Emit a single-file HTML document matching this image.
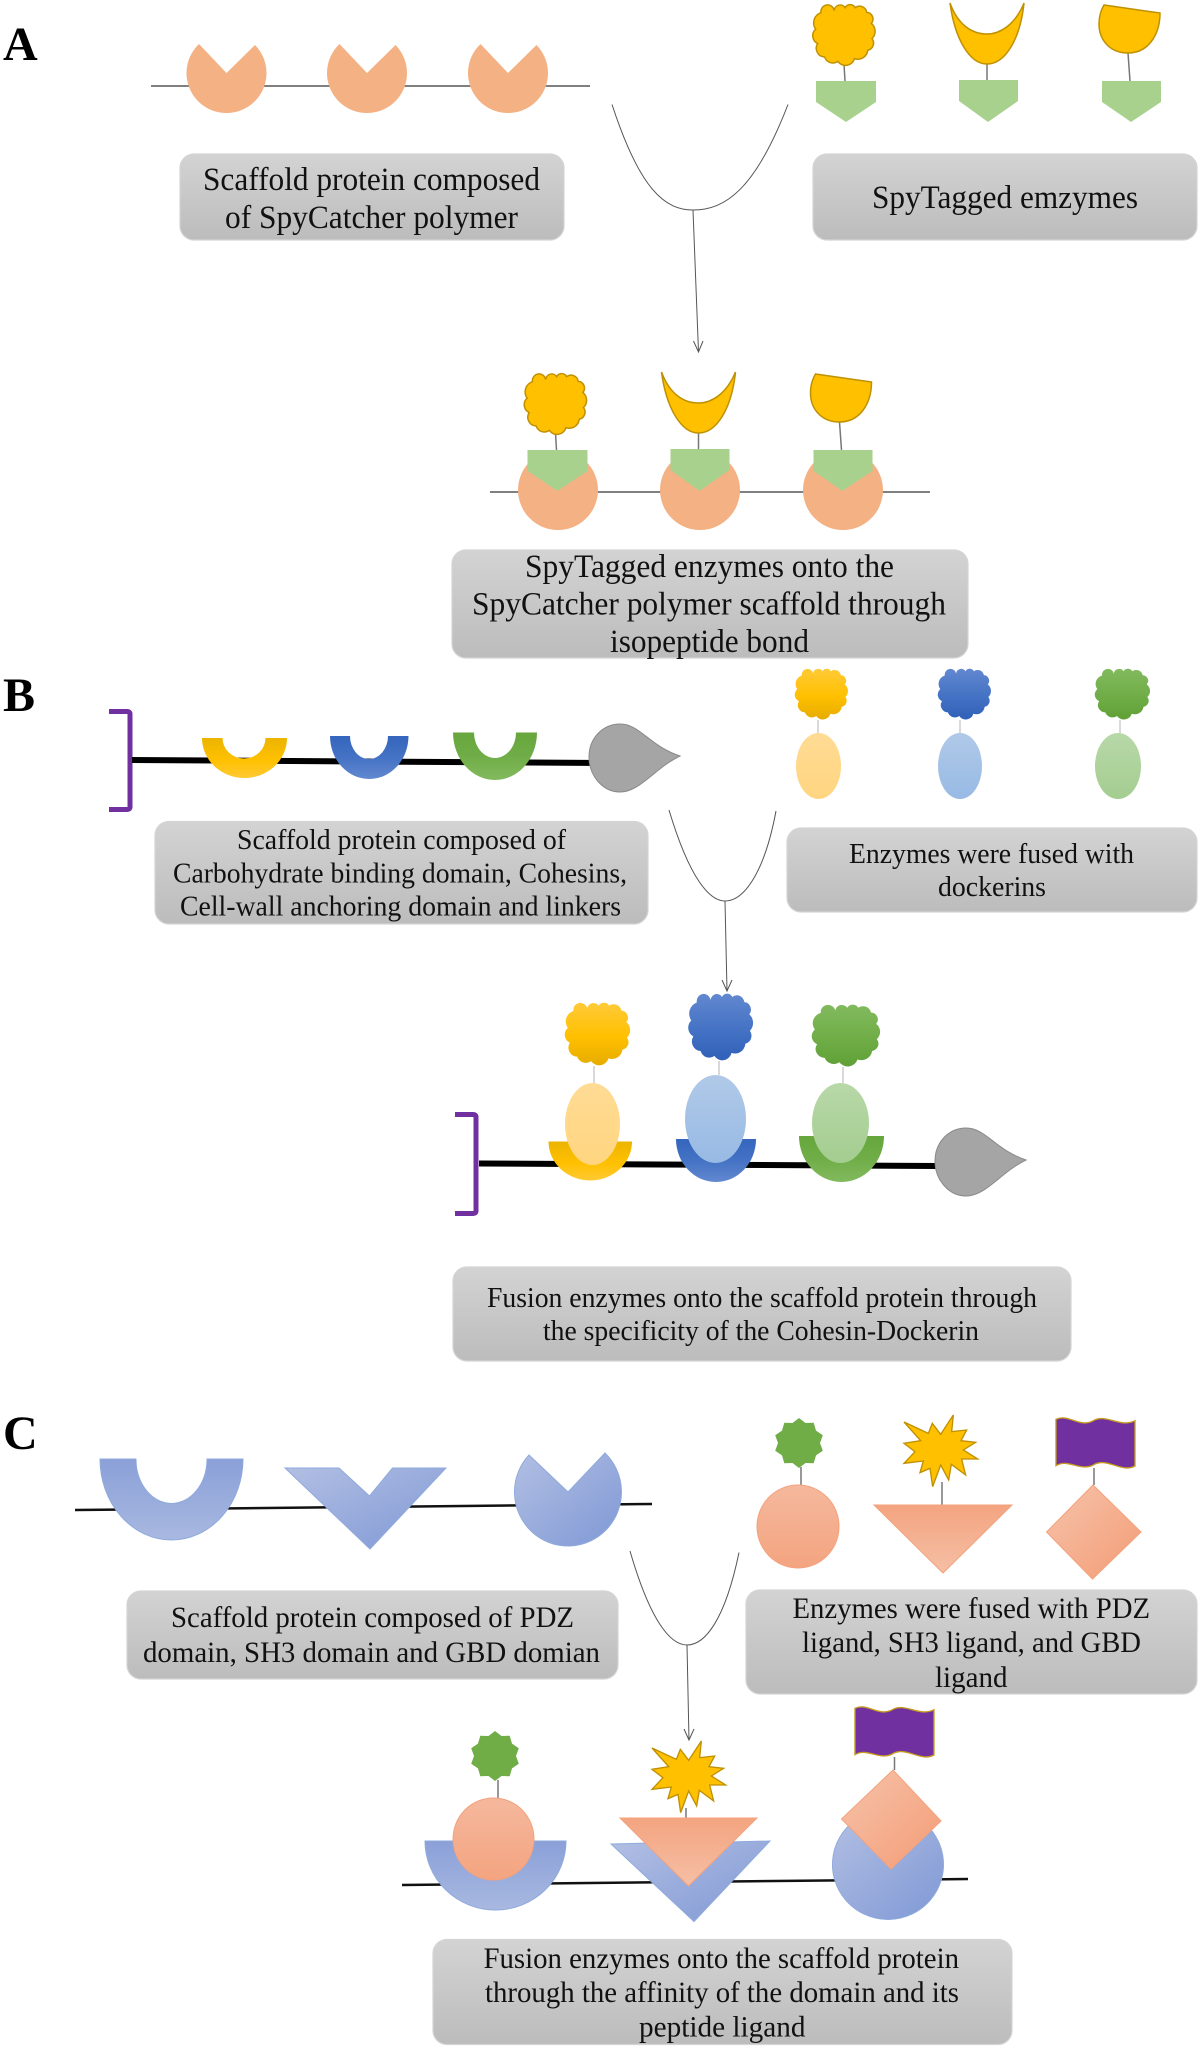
<!DOCTYPE html>
<html><head><meta charset="utf-8"><title>Scaffold diagram</title>
<style>
html,body{margin:0;padding:0;background:#fff;width:1200px;height:2048px;overflow:hidden}
svg{display:block}
text{font-family:"Liberation Serif",serif;fill:#111}
.a{font-size:33px}.b{font-size:28px}.c{font-size:30px}
.h{font-size:48px;font-weight:bold;fill:#000}
.box{fill:url(#gBox);stroke:#d4d4d4;stroke-width:1.2}
.thin{fill:none;stroke:#555;stroke-width:1}
.stem{stroke:#777;stroke-width:1.5;fill:none}
.stemL{stroke:#ccc;stroke-width:1.5;fill:none}
.gold{fill:#ffc000;stroke:#bf9000;stroke-width:1.5}
.pent{fill:#a9d18e}
.sal{fill:#f4b183}
.pur{fill:none;stroke:#7030a0;stroke-width:5}
.tear{fill:#a5a5a5;stroke:#8a8a8a;stroke-width:1}
.blu{stroke:#8faadc;stroke-width:1}
.sm{stroke:#f4a27c;stroke-width:1}
</style></head><body>
<svg width="1200" height="2048" viewBox="0 0 1200 2048" xmlns="http://www.w3.org/2000/svg">
<defs>
<linearGradient id="gBox" x1="0" y1="0" x2="0" y2="1"><stop offset="0" stop-color="#d3d3d3"/><stop offset="1" stop-color="#bcbcbc"/></linearGradient>
<linearGradient id="gY" x1="0" y1="0" x2="0" y2="1"><stop offset="0" stop-color="#ecb400"/><stop offset=".55" stop-color="#ffc000"/><stop offset="1" stop-color="#ffc933"/></linearGradient>
<linearGradient id="gB" x1="0" y1="0" x2="0" y2="1"><stop offset="0" stop-color="#3566bd"/><stop offset=".5" stop-color="#4472c4"/><stop offset="1" stop-color="#6288d0"/></linearGradient>
<linearGradient id="gG" x1="0" y1="0" x2="0" y2="1"><stop offset="0" stop-color="#66a63c"/><stop offset=".5" stop-color="#70ad47"/><stop offset="1" stop-color="#82ba5e"/></linearGradient>
<linearGradient id="cY" x1="0" y1="0" x2="0" y2="1"><stop offset="0" stop-color="#ffca38"/><stop offset=".55" stop-color="#ffc000"/><stop offset="1" stop-color="#e6ac00"/></linearGradient>
<linearGradient id="cB" x1="0" y1="0" x2="0" y2="1"><stop offset="0" stop-color="#6288d0"/><stop offset=".55" stop-color="#4472c4"/><stop offset="1" stop-color="#3060b8"/></linearGradient>
<linearGradient id="cG" x1="0" y1="0" x2="0" y2="1"><stop offset="0" stop-color="#82ba5e"/><stop offset=".55" stop-color="#70ad47"/><stop offset="1" stop-color="#60a036"/></linearGradient>
<linearGradient id="lY" x1="0" y1="0" x2="0" y2="1"><stop offset="0" stop-color="#ffdb94"/><stop offset="1" stop-color="#ffd580"/></linearGradient>
<linearGradient id="lB" x1="0" y1="0" x2="0" y2="1"><stop offset="0" stop-color="#b0c9e8"/><stop offset="1" stop-color="#98bae4"/></linearGradient>
<linearGradient id="lG" x1="0" y1="0" x2="0" y2="1"><stop offset="0" stop-color="#b8d8a8"/><stop offset="1" stop-color="#a4cd90"/></linearGradient>
<linearGradient id="bV" x1="0" y1="0" x2="0" y2="1"><stop offset="0" stop-color="#8aa0d8"/><stop offset="1" stop-color="#a8b8e0"/></linearGradient>
<linearGradient id="bD" x1="0" y1="0" x2="1" y2="1"><stop offset="0" stop-color="#b2bfe3"/><stop offset="1" stop-color="#7f98d5"/></linearGradient>
<linearGradient id="sV" x1="0" y1="0" x2="0" y2="1"><stop offset="0" stop-color="#f5b89d"/><stop offset="1" stop-color="#f4a480"/></linearGradient>
<linearGradient id="sT" x1="0" y1="0" x2="0" y2="1"><stop offset="0" stop-color="#f4a480"/><stop offset="1" stop-color="#f5bfa5"/></linearGradient>
<linearGradient id="sD" x1="0" y1="0" x2="1" y2="1"><stop offset="0" stop-color="#f6c3ab"/><stop offset="1" stop-color="#f49c75"/></linearGradient>
<path id="cloud" vector-effect="non-scaling-stroke" d="M24,23A20,20 0 0 1 64,17A18,18 0 0 1 97,8A17,17 0 0 1 127,8A22,22 0 0 1 162,22A20,20 0 0 1 176,55A30,30 0 0 1 178,100A22,22 0 0 1 165,135A30,30 0 0 1 125,160A28,28 0 0 1 75,168A26,26 0 0 1 35,155A26,26 0 0 1 14,115A26,26 0 0 1 8,72A32,32 0 0 1 24,23Z"/>
<polygon id="seal" points="0,-50 13,-40 29.4,-40.5 34,-24.7 47.6,-15.5 42,0 47.6,15.5 34,24.7 29.4,40.5 13,40 0,50 -13,40 -29.4,40.5 -34,24.7 -47.6,15.5 -42,0 -47.6,-15.5 -34,-24.7 -29.4,-40.5 -13,-40"/>
<g id="enzA">
<line class="stem" x1="844" y1="64" x2="845" y2="81"/>
<line class="stem" x1="987" y1="64" x2="987" y2="80"/>
<line class="stem" x1="1128" y1="53" x2="1130" y2="81"/>
<g transform="translate(813,5) scale(.3316,.3352)"><use href="#cloud" class="gold"/></g>
<path class="gold" d="M950,3C955,40 970,64 987,64C1005,64 1020,40 1024,3C1015,25 1000,34 987,34C972,34 958,25 950,3Z"/>
<path class="gold" d="M1104,5L1160,13C1160,35 1148,53 1128,53C1110,53 1099,40 1099,24C1099,16 1101,10 1104,5Z"/>
<polygon class="pent" points="816,81 876,81 876,102 846,122 816,102"/>
<polygon class="pent" points="959,80 1018,80 1018,101 988,122 959,101"/>
<polygon class="pent" points="1102,81 1161,81 1161,102 1131,122 1102,102"/>
</g>
<path id="tear" class="tear" d="M589,757C589,738 603,724 620,724C640,724 648,745 680,756C655,768 640,792 620,792C603,792 589,776 589,757Z"/>
<g id="yel"><polygon class="gold" points="220,45 215,95 260,90 243,122 287,127 250,150 293,177 245,177 257,225 214,193 206,240 182,195 158,260 150,205 120,218 130,183 72,190 105,155 72,130 122,122 72,66 145,100 157,70 182,103" style="stroke-width:4"/></g>
<path id="wave" fill="#7030a0" stroke="#c79a1f" stroke-width="4" d="M528,58C565,40 600,85 640,62C680,40 720,85 765,62L765,198C725,220 680,170 640,195C600,215 565,175 528,197Z"/>
</defs>

<!-- A -->
<text class="h" x="3" y="60">A</text>
<line x1="151" y1="86" x2="590" y2="86" stroke="#808080" stroke-width="2"/>
<path class="sal" d="M199,44L226.5,73L255,45A40,40 0 1 1 199,44Z"/>
<path class="sal" d="M339.5,44L367,73L395.5,45A40,40 0 1 1 339.5,44Z"/>
<path class="sal" d="M480.5,44L508,73L536.5,45A40,40 0 1 1 480.5,44Z"/>
<rect class="box" x="180" y="154" width="384" height="86" rx="14"/>
<text class="a" x="203" y="190" textLength="337" lengthAdjust="spacingAndGlyphs">Scaffold protein composed</text>
<text class="a" x="225" y="228" textLength="293" lengthAdjust="spacingAndGlyphs">of SpyCatcher polymer</text>
<use href="#enzA"/>
<rect class="box" x="813" y="154" width="384" height="86" rx="14"/>
<text class="a" x="872" y="208" textLength="266" lengthAdjust="spacingAndGlyphs">SpyTagged emzymes</text>
<path class="thin" d="M612,104.5C640,190 665,210 693,210C725,210 755,190 788,104.5"/>
<path class="thin" d="M693,210L698.5,352M693.5,341L698.5,352L703,341"/>
<line x1="490" y1="492" x2="930" y2="492" stroke="#808080" stroke-width="2"/>
<circle class="sal" cx="558" cy="490" r="40"/><circle class="sal" cx="700" cy="490" r="40"/><circle class="sal" cx="843" cy="490" r="40"/>
<use href="#enzA" transform="translate(-288.5,369)"/>
<rect class="box" x="452" y="550" width="516" height="108" rx="14"/>
<text class="a" x="525" y="577" textLength="369" lengthAdjust="spacingAndGlyphs">SpyTagged enzymes onto the</text>
<text class="a" x="472" y="614.5" textLength="474" lengthAdjust="spacingAndGlyphs">SpyCatcher polymer scaffold through</text>
<text class="a" x="610" y="652" textLength="199" lengthAdjust="spacingAndGlyphs">isopeptide bond</text>

<!-- B -->
<text class="h" x="3" y="711">B</text>
<path class="pur" d="M109,711.5H127Q130,711.5 130,714V807Q130,809.5 127,809.5H109"/>
<line x1="132" y1="760" x2="604" y2="763" stroke="#000" stroke-width="6"/>
<path fill="url(#gY)" d="M202,738A42.5,40 0 0 0 287,738L265.5,738A21.5,20.5 0 0 1 222.5,738Z"/>
<path fill="url(#gB)" d="M330,736A39.25,43 0 0 0 408.5,736L388,736A19,23 0 0 1 350,736Z"/>
<path fill="url(#gG)" d="M453,732.5A42,47.5 0 0 0 537,732.5L516,732.5A21,25.5 0 0 1 474,732.5Z"/>
<use href="#tear"/>
<line class="stemL" x1="818" y1="720" x2="818" y2="733"/><line class="stemL" x1="960" y1="720" x2="960" y2="733"/><line class="stemL" x1="1120" y1="720" x2="1120" y2="733"/>
<g transform="translate(795,669) scale(.283,.28)"><use href="#cloud" fill="url(#cY)"/></g>
<g transform="translate(938,669) scale(.283,.28)"><use href="#cloud" fill="url(#cB)"/></g>
<g transform="translate(1095,669) scale(.294,.28)"><use href="#cloud" fill="url(#cG)"/></g>
<ellipse cx="818.5" cy="766" rx="22.5" ry="33" fill="url(#lY)"/>
<ellipse cx="960" cy="766" rx="22" ry="33" fill="url(#lB)"/>
<ellipse cx="1118" cy="766" rx="23" ry="33" fill="url(#lG)"/>
<rect class="box" x="155" y="821.5" width="493" height="102.5" rx="14"/>
<text class="b" x="237" y="849" textLength="329" lengthAdjust="spacingAndGlyphs">Scaffold protein composed of</text>
<text class="b" x="173" y="882.5" textLength="454" lengthAdjust="spacingAndGlyphs">Carbohydrate binding domain, Cohesins,</text>
<text class="b" x="180" y="915.5" textLength="441" lengthAdjust="spacingAndGlyphs">Cell-wall anchoring domain and linkers</text>
<rect class="box" x="787" y="828" width="410" height="84" rx="14"/>
<text class="b" x="849" y="863" textLength="285" lengthAdjust="spacingAndGlyphs">Enzymes were fused with</text>
<text class="b" x="938" y="896" textLength="108" lengthAdjust="spacingAndGlyphs">dockerins</text>
<path class="thin" d="M669,810C690,880 710,901 725,901C745,901 765,870 776,811"/>
<path class="thin" d="M725,901L727,991M722,980L727,991L732,980"/>
<path class="pur" d="M455,1114.5H473Q476,1114.5 476,1117V1211Q476,1213.5 473,1213.5H455"/>
<line x1="479" y1="1163.5" x2="937" y2="1166" stroke="#000" stroke-width="6"/>
<path fill="url(#gY)" d="M548.5,1141.5A41.75,39 0 0 0 632,1141.5Z"/>
<path fill="url(#gB)" d="M676,1139A40,43 0 0 0 756,1139Z"/>
<path fill="url(#gG)" d="M799,1136A42.5,46 0 0 0 884,1136Z"/>
<line class="stemL" x1="594" y1="1066" x2="594" y2="1083"/><line class="stemL" x1="719" y1="1061" x2="719" y2="1075"/><line class="stemL" x1="843" y1="1067" x2="843" y2="1083"/>
<ellipse cx="592.5" cy="1124" rx="27.5" ry="41" fill="url(#lY)"/>
<ellipse cx="715.5" cy="1119" rx="30.5" ry="44" fill="url(#lB)"/>
<ellipse cx="840.5" cy="1123" rx="28.5" ry="40" fill="url(#lG)"/>
<g transform="translate(565,1003) scale(.348,.346)"><use href="#cloud" fill="url(#cY)"/></g>
<g transform="translate(688.5,994) scale(.345,.368)"><use href="#cloud" fill="url(#cB)"/></g>
<g transform="translate(812,1005) scale(.364,.341)"><use href="#cloud" fill="url(#cG)"/></g>
<use href="#tear" transform="translate(346,404)"/>
<rect class="box" x="453" y="1267" width="618" height="94" rx="14"/>
<text class="b" x="487" y="1307" textLength="550" lengthAdjust="spacingAndGlyphs">Fusion enzymes onto the scaffold protein through</text>
<text class="b" x="543" y="1340" textLength="436" lengthAdjust="spacingAndGlyphs">the specificity of the Cohesin-Dockerin</text>

<!-- C -->
<text class="h" x="3" y="1449">C</text>
<line x1="75" y1="1510" x2="652" y2="1504" stroke="#111" stroke-width="2.5"/>
<path class="blu" fill="url(#bV)" d="M100,1459A71.5,81 0 0 0 243,1459L207,1459A35.5,44.5 0 0 1 136,1459Z"/>
<polygon class="blu" fill="url(#bD)" points="285,1468 339,1468 369.5,1496 392.5,1468 446,1468 370,1549"/>
<path class="blu" fill="url(#bD)" d="M529,1455L568,1492L605,1453A53.5,54 0 1 1 529,1455Z"/>
<line class="stem" x1="801" y1="1467" x2="801" y2="1485"/>
<line class="stem" x1="942" y1="1482" x2="942" y2="1505"/>
<line class="stem" x1="1094" y1="1468" x2="1094" y2="1485"/>
<use href="#seal" transform="translate(799,1443) scale(.5,.5)" fill="#70ad47"/>
<use href="#yel" transform="translate(880,1400) scale(.3333)"/>
<use href="#wave" transform="translate(880,1400) scale(.3333)"/>
<ellipse class="sm" fill="url(#sV)" cx="798" cy="1526.5" rx="41" ry="41.5"/>
<polygon class="sm" fill="url(#sT)" points="874,1505 1012,1505 943,1573"/>
<polygon class="sm" fill="url(#sD)" points="1093,1485 1141,1532 1092.5,1579 1046.5,1532"/>
<path class="thin" d="M630,1551C650,1620 670,1645 687,1645C705,1645 725,1620 739,1552.5"/>
<path class="thin" d="M687,1645L689,1740M684,1729L689,1740L694,1729"/>
<rect class="box" x="127" y="1591" width="491" height="88" rx="14"/>
<text class="c" x="171" y="1627" textLength="403" lengthAdjust="spacingAndGlyphs">Scaffold protein composed of PDZ</text>
<text class="c" x="143" y="1662" textLength="457" lengthAdjust="spacingAndGlyphs">domain, SH3 domain and GBD domian</text>
<rect class="box" x="746" y="1590" width="451" height="104" rx="14"/>
<text class="c" x="792.5" y="1618" textLength="357.5" lengthAdjust="spacingAndGlyphs">Enzymes were fused with PDZ</text>
<text class="c" x="802" y="1652" textLength="339" lengthAdjust="spacingAndGlyphs">ligand, SH3 ligand, and GBD</text>
<text class="c" x="935" y="1687" textLength="72.5" lengthAdjust="spacingAndGlyphs">ligand</text>
<line x1="402" y1="1885" x2="968" y2="1879" stroke="#111" stroke-width="2.5"/>
<path class="blu" fill="url(#bV)" d="M425,1841A70.5,69 0 0 0 566,1841Z"/>
<polygon class="blu" fill="url(#bD)" points="611,1844 652,1843 688,1884 728,1842 770,1841 694,1921.5"/>
<path class="blu" fill="url(#bD)" d="M860,1817L888,1864L916,1817A55.5,55 0 1 1 860,1817Z"/>
<line class="stem" x1="498" y1="1780" x2="498" y2="1798"/>
<line class="stem" x1="686" y1="1808" x2="686" y2="1818"/>
<line class="stem" x1="894.5" y1="1757" x2="894.5" y2="1770"/>
<ellipse class="sm" fill="url(#sV)" cx="493.5" cy="1839" rx="40.5" ry="41"/>
<polygon class="sm" fill="url(#sT)" points="620,1818 757,1818 688.5,1886"/>
<polygon class="sm" fill="url(#sD)" points="893,1770 941,1821 891,1869 841.5,1819"/>
<use href="#seal" transform="translate(495,1756) scale(.5,.5)" fill="#70ad47"/>
<use href="#yel" transform="translate(628,1726) scale(.3333)"/>
<use href="#wave" transform="translate(679,1689) scale(.3333)"/>
<rect class="box" x="433" y="1939.5" width="579" height="105" rx="14"/>
<text class="c" x="483.5" y="1968" textLength="475.5" lengthAdjust="spacingAndGlyphs">Fusion enzymes onto the scaffold protein</text>
<text class="c" x="485" y="2002" textLength="474" lengthAdjust="spacingAndGlyphs">through the affinity of the domain and its</text>
<text class="c" x="639" y="2036.5" textLength="166.5" lengthAdjust="spacingAndGlyphs">peptide ligand</text>
</svg>
</body></html>
